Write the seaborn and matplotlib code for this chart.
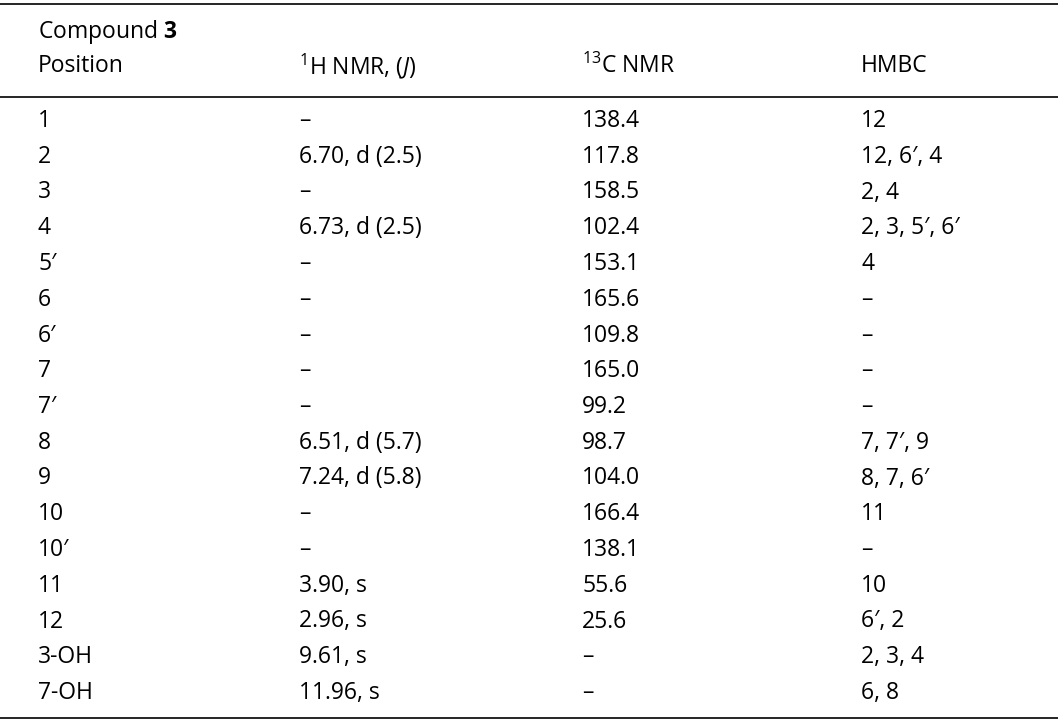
import matplotlib
matplotlib.use("Agg")
import matplotlib.pyplot as plt
import seaborn as sns

sns.set_theme(style="white")
plt.rcParams['font.family'] = ['Open Sans', 'DejaVu Sans']
plt.rcParams['text.color'] = 'black'
plt.rcParams['mathtext.fontset'] = 'custom'
plt.rcParams['mathtext.rm'] = 'Open Sans'
plt.rcParams['mathtext.it'] = 'Open Sans:italic'
plt.rcParams['mathtext.bf'] = 'Open Sans:bold'

positions = ["1", "2", "3", "4", "5′", "6", "6′", "7", "7′", "8", "9", "10", "10′", "11", "12", "3-OH", "7-OH"]
h_nmr = ["–", "6.70, d (2.5)", "–", "6.73, d (2.5)", "–", "–", "–", "–", "–",
         "6.51, d (5.7)", "7.24, d (5.8)", "–", "–", "3.90, s", "2.96, s", "9.61, s", "11.96, s"]
c_nmr = ["138.4", "117.8", "158.5", "102.4", "153.1", "165.6", "109.8", "165.0", "99.2",
         "98.7", "104.0", "166.4", "138.1", "55.6", "25.6", "–", "–"]
hmbc = ["12", "12, 6′, 4", "2, 4", "2, 3, 5′, 6′", "4", "–", "–", "–", "–",
        "7, 7′, 9", "8, 7, 6′", "11", "–", "10", "6′, 2", "2, 3, 4", "6, 8"]
headers = ["Position", r"$^{1}$H NMR, ($J$)", r"$^{13}$C NMR", "HMBC"]

W, H = 1058, 721
fig = plt.figure(figsize=(W/100, H/100), dpi=100)
ax = fig.add_axes([0, 0, 1, 1])
ax.set_xlim(0, W); ax.set_ylim(H, 0); ax.axis("off")

colx = [38, 299, 582, 861]
fs = 16.5
ax.axhline(4, color="black", lw=1.2)
ax.axhline(97, color="black", lw=1.2)
ax.axhline(718, color="black", lw=1.2)

ax.text(colx[0], 32, r"Compound $\mathbf{3}$", fontsize=fs, va="center", ha="left")
for x, h in zip(colx, headers):
    ax.text(x, 66, h, fontsize=fs, va="center", ha="left")

y0, dy = 121, 35.75
for i, row in enumerate(zip(positions, h_nmr, c_nmr, hmbc)):
    y = y0 + i * dy
    for x, v in zip(colx, row):
        ax.text(x, y, v, fontsize=fs, va="center", ha="left")

fig.savefig("out.png", dpi=100, facecolor="white")
